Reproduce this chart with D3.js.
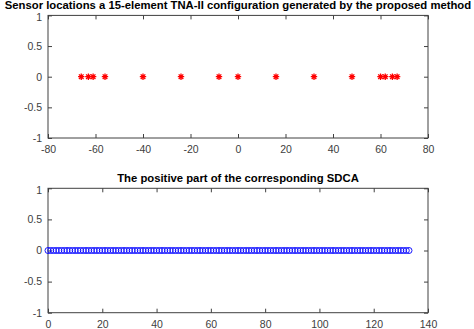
<!DOCTYPE html>
<html><head><meta charset="utf-8">
<script src="https://cdn.jsdelivr.net/npm/d3@7"></script>
<style>body{margin:0;background:#fff}svg{display:block}text{font-family:"Liberation Sans",Arial,sans-serif}</style>
</head><body>
<script>
const sensorPositions = [-66,-63,-61,-56,-40,-24,-8,0,16,32,48,60,62,65,67];
const sdcaLags = d3.range(0,134);
const topTitle = "Sensor locations a 15-element TNA-II configuration generated by the proposed method";
const bottomTitle = "The positive part of the corresponding SDCA";
const topXTicks = [-80,-60,-40,-20,0,20,40,60,80];
const bottomXTicks = [0,20,40,60,80,100,120,140];
const yTicks = [-1,-0.5,0,0.5,1];

const W=474,H=329;
const svg=d3.select("body").append("svg").attr("width",W).attr("height",H);
const axCol="#404040";
const fmt=d=>String(d);

function panel(top,bottom,xDomain,xTicks,title){
  const x=d3.scaleLinear().domain(xDomain).range([48,428]);
  const y=d3.scaleLinear().domain([-1,1]).range([bottom,top]);
  const g=svg.append("g");
  const tl=4;
  g.append("rect").attr("x",48).attr("y",top).attr("width",380).attr("height",bottom-top)
   .attr("fill","none").attr("stroke",axCol).attr("stroke-width",1);
  const xa=d3.axisBottom(x).tickValues(xTicks).tickSizeInner(-tl).tickSizeOuter(0).tickPadding(6).tickFormat(fmt);
  const gx=g.append("g").attr("transform",`translate(0,${bottom})`).call(xa);
  const xt=d3.axisTop(x).tickValues(xTicks).tickSizeInner(-tl).tickSizeOuter(0).tickFormat("");
  const gxt=g.append("g").attr("transform",`translate(0,${top})`).call(xt);
  const ya=d3.axisLeft(y).tickValues(yTicks).tickSizeInner(-tl).tickSizeOuter(0).tickPadding(6).tickFormat(fmt);
  const gy=g.append("g").attr("transform",`translate(48,0)`).call(ya);
  const yr=d3.axisRight(y).tickValues(yTicks).tickSizeInner(-tl).tickSizeOuter(0).tickFormat("");
  const gyr=g.append("g").attr("transform",`translate(428,0)`).call(yr);
  [gx,gxt,gy,gyr].forEach(a=>{a.select(".domain").remove();a.selectAll("line").attr("stroke",axCol);
    a.selectAll("text").attr("fill",axCol).style("font-size","10.5px");});
  gx.selectAll("text").attr("dy","0.9em");
  gy.selectAll("text").filter(d=>d===1).attr("dy","0.45em");
  g.append("text").attr("x",238).attr("y",top-6).attr("text-anchor","middle")
   .style("font-weight","bold").style("font-size","11.3px").attr("fill","#000").text(title);
  return {x,y,g};
}

const p1=panel(15.4,138,[-80,80],topXTicks,topTitle);
const s=3.2;
const star=p1.g.append("g").selectAll("g").data(sensorPositions).join("g")
  .attr("transform",d=>`translate(${p1.x(d)},${p1.y(0)})`);
star.append("path").attr("d",`M${-s},0H${s}M0,${-s}V${s}M${-s*0.72},${-s*0.72}L${s*0.72},${s*0.72}M${-s*0.72},${s*0.72}L${s*0.72},${-s*0.72}`)
  .attr("stroke","#ff0000").attr("stroke-width",1.3).attr("fill","none");

const p2=panel(188.3,312.7,[0,140],bottomXTicks,bottomTitle);
p2.g.append("g").selectAll("circle").data(sdcaLags).join("circle")
  .attr("cx",d=>p2.x(d)).attr("cy",p2.y(0)).attr("r",3)
  .attr("fill","none").attr("stroke","#0000ff").attr("stroke-width",0.9);
</script>
</body></html>
